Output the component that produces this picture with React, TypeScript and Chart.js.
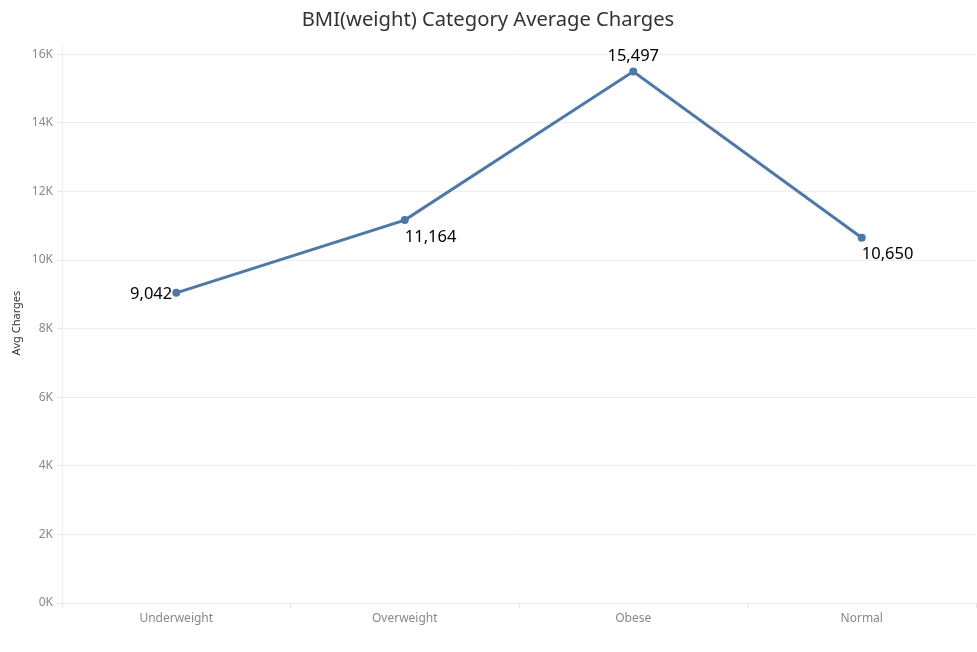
import React, { useEffect, useRef } from "react";
import { Chart, registerables } from "chart.js";

Chart.register(...registerables);

const categories = ["Underweight", "Overweight", "Obese", "Normal"];
const avgCharges = [9042, 11164, 15497, 10650];
const yTickValues = [0, 2000, 4000, 6000, 8000, 10000, 12000, 14000, 16000];
const titleText = "BMI(weight) Category Average Charges";
const yAxisTitle = "Avg Charges";

// label placement per point: side relative to the point
const labelPlacement = ["left", "below", "above", "below"];

const FONT = "'Noto Sans', 'Open Sans', sans-serif";

const dataLabelPlugin = {
  id: "dataLabels",
  afterDatasetsDraw(chart: any) {
    const ctx = chart.ctx;
    const meta = chart.getDatasetMeta(0);
    const ds = chart.data.datasets[0];
    ctx.save();
    ctx.font = `16.5px ${FONT}`;
    ctx.fillStyle = "#000";
    meta.data.forEach((pt: any, i: number) => {
      const v = ds.data[i] as number;
      const txt = v.toLocaleString("en-US");
      const place = labelPlacement[i];
      ctx.textBaseline = "middle";
      if (place === "left") {
        ctx.textAlign = "right";
        ctx.fillText(txt, pt.x - 4, pt.y + 1);
      } else if (place === "above") {
        ctx.textAlign = "center";
        ctx.fillText(txt, pt.x, pt.y - 15);
      } else {
        ctx.textAlign = "left";
        ctx.fillText(txt, pt.x, pt.y + 17);
      }
    });
    ctx.restore();
  },
};

export default function App() {
  const canvasRef = useRef<HTMLCanvasElement | null>(null);

  useEffect(() => {
    if (!canvasRef.current) return;
    const chart = new Chart(canvasRef.current, {
      type: "line",
      data: {
        labels: categories,
        datasets: [
          {
            data: avgCharges,
            borderColor: "#4e79a7",
            backgroundColor: "#4e79a7",
            borderWidth: 3,
            pointRadius: 2.5,
            pointHoverRadius: 2.5,
            tension: 0,
          },
        ],
      },
      options: {
        responsive: false,
        animation: false,
        layout: { autoPadding: false, padding: { top: 8, right: 1, bottom: 0, left: 0 } },
        plugins: {
          legend: { display: false },
          tooltip: { enabled: false },
          title: {
            display: true,
            text: titleText,
            color: "#333333",
            font: { family: FONT, size: 20.2, weight: "normal" },
            padding: { top: 0, bottom: 11 },
          },
        },
        scales: {
          x: {
            type: "category",
            offset: true,
            grid: {
              display: true,
              offset: true,
              drawOnChartArea: false,
              drawTicks: true,
              tickLength: 5,
              tickColor: "#e6e6e6",
            },
            border: { display: true, color: "#e6e6e6" },
            ticks: {
              color: "#888888",
              font: { family: FONT, size: 12 },
              padding: 3,
              maxRotation: 0,
            },
            afterFit(scale: any) {
              scale.height = 49;
              scale.paddingLeft = 0;
              scale.paddingRight = 0;
            },
          },
          y: {
            min: 0,
            max: 16320,
            afterBuildTicks(scale: any) {
              scale.ticks = yTickValues.map((v) => ({ value: v }));
            },
            grid: {
              color: "#eeeeee",
              tickLength: 5,
              tickColor: "#e6e6e6",
            },
            border: { display: true, color: "#eeeeee" },
            ticks: {
              color: "#888888",
              font: { family: FONT, size: 12 },
              padding: 4,
              callback: (v: any) => `${Number(v) / 1000}K`,
            },
            title: {
              display: true,
              text: yAxisTitle,
              color: "#333333",
              font: { family: FONT, size: 11 },
              padding: { top: 10, bottom: 0 },
            },
            afterFit(scale: any) {
              scale.width = 62;
            },
          },
        },
      },
      plugins: [dataLabelPlugin],
    });
    return () => chart.destroy();
  }, []);

  return (
    <div style={{ position: "fixed", left: 0, top: 0, width: 977, height: 652, background: "#fff" }}>
      <canvas ref={canvasRef} width={977} height={652} />
    </div>
  );
}
